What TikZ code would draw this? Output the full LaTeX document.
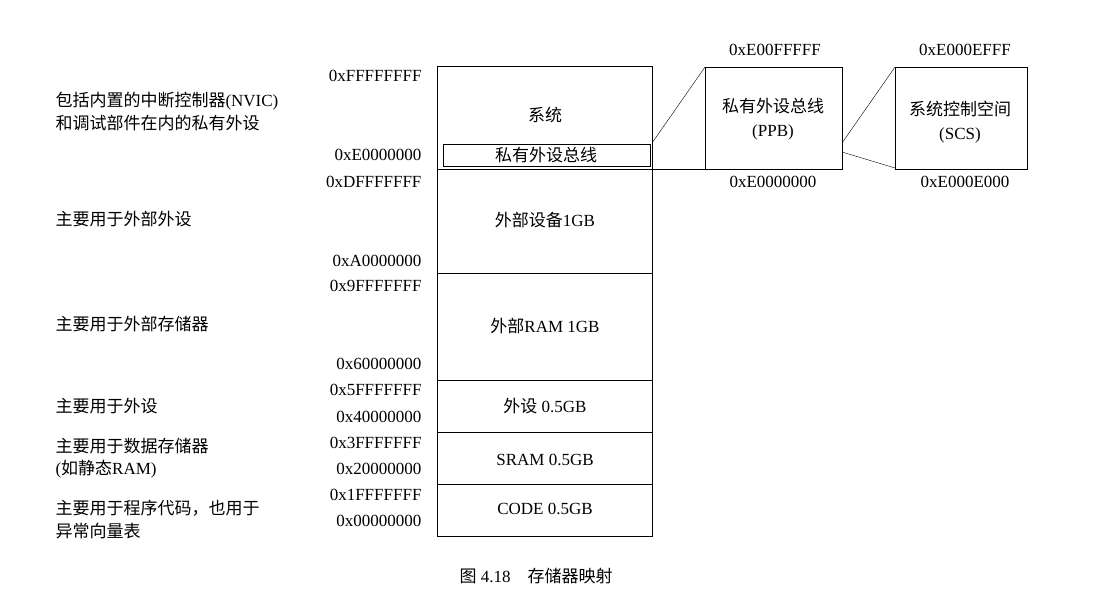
\documentclass[tikz,border=0pt]{standalone}
\usepackage{fontspec}
\setmainfont{Liberation Serif}
\newfontfamily\cjk{Noto Sans CJK SC}
\usetikzlibrary{positioning}

\begin{document}
\begin{tikzpicture}[x=1pt,y=-1pt,font=\fontsize{17}{24}\selectfont,
  addr/.style={anchor=east},
  note/.style={anchor=west},
  lbl/.style={anchor=center}]
        \useasboundingbox (0,0) rectangle (1099,614);
        % memory column
        \draw (437,66) rectangle (652,169);
        \draw (437,169) rectangle (652,273);
        \draw (437,273) rectangle (652,380);
        \draw (437,380) rectangle (652,432);
        \draw (437,432) rectangle (652,484);
        \draw (437,484) rectangle (652,536);
        \draw (443,144) rectangle (650,166);
        % zoom boxes
        \draw (705,67) rectangle (842,169);
        \draw (895,67) rectangle (1027,169);
        \draw (652,143) -- (705,67);
        \draw (652,169) -- (705,169);
        \draw (842,143) -- (895,67);
        \draw (842,152) -- (895,168);

        \node[lbl] (sys) at (545,115) {\cjk 系统};
        \node[lbl] (ppbin) at (546,155) {\cjk 私有外设总线};
        \node[lbl] (ext) at (545,220) {{\cjk 外部设备}1GB};
        \node[lbl] (eram) at (545,326) {{\cjk 外部}RAM 1GB};
        \node[lbl] (per) at (545,406) {{\cjk 外设} 0.5GB};
        \node[lbl] (sram) at (545,460) {SRAM 0.5GB};
        \node[lbl] (code) at (545,509) {CODE 0.5GB};

        \node[lbl,align=center] (ppb) at (773,119) {{\cjk 私有外设总线}\\(PPB)};
        \node[lbl,align=center] (scs) at (960,122) {{\cjk 系统控制空间}\\(SCS)};
        \node[lbl] (ppbtop) at (775,50) {0xE00FFFFF};
        \node[lbl] (ppbbot) at (773,182) {0xE0000000};
        \node[lbl] (scstop) at (965,50) {0xE000EFFF};
        \node[lbl] (scsbot) at (965,182) {0xE000E000};

        \node[addr] (a1) at (425,76) {0xFFFFFFFF};
        \node[addr] (a2) at (425,155) {0xE0000000};
        \node[addr] (a3) at (425,182) {0xDFFFFFFF};
        \node[addr] (a4) at (425,261) {0xA0000000};
        \node[addr] (a5) at (425,286) {0x9FFFFFFF};
        \node[addr] (a6) at (425,364) {0x60000000};
        \node[addr] (a7) at (425,390) {0x5FFFFFFF};
        \node[addr] (a8) at (425,417) {0x40000000};
        \node[addr] (a9) at (425,443) {0x3FFFFFFF};
        \node[addr] (a10) at (425,469) {0x20000000};
        \node[addr] (a11) at (425,495) {0x1FFFFFFF};
        \node[addr] (a12) at (425,521) {0x00000000};

        \node[note] (n1) at (52,101) {{\cjk 包括内置的中断控制器}(NVIC)};
        \node[note] (n2) at (52,123) {\cjk 和调试部件在内的私有外设};
        \node[note] (n3) at (52,219) {\cjk 主要用于外部外设};
        \node[note] (n4) at (52,324) {\cjk 主要用于外部存储器};
        \node[note] (n5) at (52,406) {\cjk 主要用于外设};
        \node[note] (n6) at (52,446) {\cjk 主要用于数据存储器};
        \node[note] (n7) at (52,469) {({\cjk 如静态}RAM)};
        \node[note] (n8) at (52,508) {\cjk 主要用于程序代码，也用于};
        \node[note] (n9) at (52,531) {\cjk 异常向量表};

        \node[lbl] (cap) at (536,576) {{\cjk 图} 4.18\quad{\cjk 存储器映射}};
      \end{tikzpicture}
\end{document}
